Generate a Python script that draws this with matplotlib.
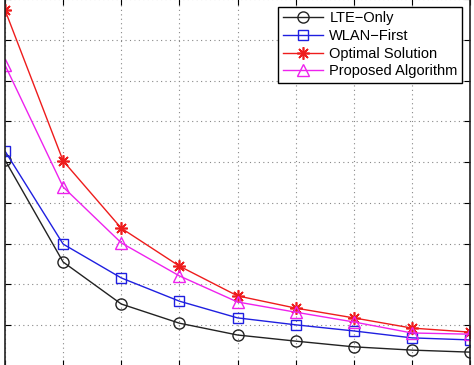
import numpy as np
import matplotlib
matplotlib.use("Agg")
import matplotlib.pyplot as plt

plt.rcParams['font.family'] = ['Liberation Sans', 'DejaVu Sans']

# data (grid units, no labels visible)
x_vals = [1, 2, 3, 4, 5, 6, 7, 8, 9]
lte_only = [5.05, 2.55, 1.52, 1.05, 0.76, 0.61, 0.47, 0.39, 0.34]
wlan_first = [5.27, 2.99, 2.16, 1.59, 1.18, 1.01, 0.86, 0.69, 0.64]
optimal = [8.73, 5.03, 3.38, 2.45, 1.72, 1.42, 1.18, 0.93, 0.83]
proposed = [7.38, 4.39, 3.02, 2.21, 1.57, 1.32, 1.08, 0.81, 0.78]

fig = plt.figure(figsize=(4.74, 3.65), dpi=100)
ax = fig.add_axes([5 / 474, -1 / 365, 465 / 474, 367 / 365])

ax.plot(x_vals, lte_only, color='#222222', marker='o', markersize=8,
        markerfacecolor='none', linewidth=1, label='LTE\u2212Only')
ax.plot(x_vals, wlan_first, color='#1f1fe0', marker='s', markersize=7,
        markerfacecolor='none', linewidth=1, label='WLAN\u2212First')
ax.plot(x_vals, optimal, color='#ee1c1c', marker=(8, 2, 0), markersize=9,
        markeredgewidth=1.2, linewidth=1, label='Optimal Solution')
ax.plot(x_vals, proposed, color='#ee22ee', marker='^', markersize=9,
        markerfacecolor='none', linewidth=1, label='Proposed Algorithm')

ax.set_xlim(1, 9)
ax.set_ylim(0, 9)
ax.set_xticks(np.arange(1, 10))
ax.set_yticks(np.arange(0, 10))
ax.tick_params(direction='in', top=True, right=True, length=4,
               labelbottom=False, labelleft=False)
ax.grid(True, linestyle=(0, (1, 3)), color='#888888', linewidth=0.8)
for s in ax.spines.values():
    s.set_linewidth(1.2)
    s.set_color('#222222')

leg = ax.legend(loc='upper right', bbox_to_anchor=(462 / 474, 1 - 7 / 365),
                bbox_transform=fig.transFigure, fontsize=10.5, fancybox=False,
                framealpha=1, edgecolor='black', borderaxespad=0,
                handlelength=2.8, labelspacing=0.25, borderpad=0.3,
                handletextpad=0.4)
leg.get_frame().set_linewidth(1)

fig.savefig('out.png', dpi=100)
